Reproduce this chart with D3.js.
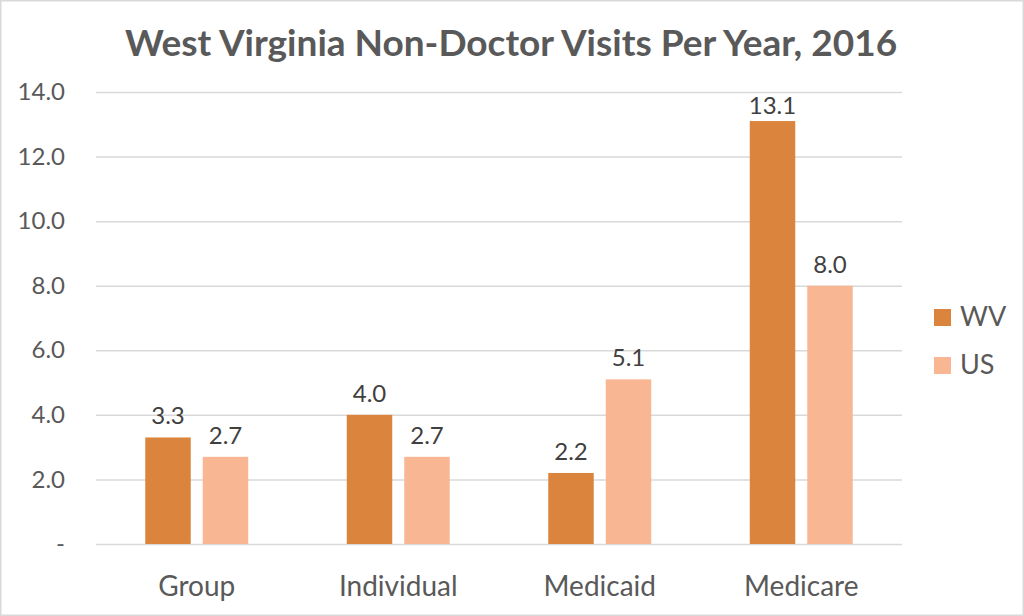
<!DOCTYPE html>
<html><head><meta charset="utf-8">
<script src="https://cdn.jsdelivr.net/npm/d3@7"></script>
<style>body{margin:0;background:#fff}svg{display:block}</style>
</head><body>
<svg id="c" width="1024" height="616"></svg>
<script>
const categories = ["Group", "Individual", "Medicaid", "Medicare"];
const seriesNames = ["WV", "US"];
const wvValues = [3.3, 4.0, 2.2, 13.1];
const usValues = [2.7, 2.7, 5.1, 8.0];
const yTicks = [0, 2, 4, 6, 8, 10, 12, 14];
const colors = ["#DA843E", "#F8B692"];
const title = "West Virginia Non-Doctor Visits Per Year, 2016";

(function(){
const svg = d3.select("#c");
const font = "Lato, 'Open Sans', sans-serif";
svg.append("rect").attr("x",0.75).attr("y",0.75).attr("width",1022.5).attr("height",614.5)
  .attr("fill","#fff").attr("stroke","#D9D9D9").attr("stroke-width",1.5);

const mLeft = 96, mRight = 902, mTop = 92, mBottom = 544;
const x0 = d3.scaleBand().domain(categories).range([mLeft,mRight]).paddingInner(0).paddingOuter(0);
const x1 = d3.scaleBand().domain(seriesNames).range([0,x0.bandwidth()]).paddingInner(0.209).paddingOuter(0.857);
const y = d3.scaleLinear().domain([0,14]).range([mBottom,mTop]);

const yAxis = d3.axisLeft(y).tickValues(yTicks).tickSize(-(mRight-mLeft)).tickFormat(d => d===0 ? "-" : d3.format(".1f")(d));
const gy = svg.append("g").attr("transform",`translate(${mLeft},0)`).call(yAxis);
gy.select(".domain").remove();
gy.selectAll(".tick line").attr("stroke","#D9D9D9").attr("stroke-width",1.5);
gy.selectAll(".tick text").attr("x",-31).attr("fill","#595959").style("font-family",font).style("font-size","24px");

const data = categories.map((c,i)=>({cat:c, vals:[{s:"WV",v:wvValues[i]},{s:"US",v:usValues[i]}]}));
const groups = svg.append("g").selectAll("g").data(data).join("g")
  .attr("transform",d=>`translate(${x0(d.cat)},0)`);
groups.selectAll("rect").data(d=>d.vals).join("rect")
  .attr("x",d=>x1(d.s)).attr("width",x1.bandwidth())
  .attr("y",d=>y(d.v)).attr("height",d=>y(0)-y(d.v))
  .attr("fill",(d,i)=>colors[i]);
groups.selectAll("text").data(d=>d.vals).join("text")
  .attr("x",d=>x1(d.s)+x1.bandwidth()/2).attr("y",d=>Math.max(y(d.v)-13, mTop+22))
  .attr("text-anchor","middle").attr("fill","#404040")
  .style("font-family",font).style("font-size","24px")
  .text(d=>d3.format(".1f")(d.v));

const xAxis = d3.axisBottom(x0).tickSize(0);
const gx = svg.append("g").attr("transform",`translate(0,${mBottom})`).call(xAxis);
gx.select(".domain").remove();
gx.selectAll(".tick text").attr("y",52).attr("dy",0).attr("fill","#595959").style("font-family",font).style("font-size","28px");

const leg = svg.append("g").selectAll("g").data(seriesNames).join("g")
  .attr("transform",(d,i)=>`translate(934,${309+i*48})`);
leg.append("rect").attr("width",17).attr("height",17).attr("fill",(d,i)=>colors[i]);
leg.append("text").attr("x",26).attr("y",17).attr("fill","#595959")
  .style("font-family",font).style("font-size","27px").text(d=>d);

svg.append("text").attr("x",511).attr("y",56).attr("text-anchor","middle")
  .attr("fill","#595959").style("font-family",font).style("font-weight","bold").style("font-size","37px")
  .text(title);
})();
</script>
</body></html>
